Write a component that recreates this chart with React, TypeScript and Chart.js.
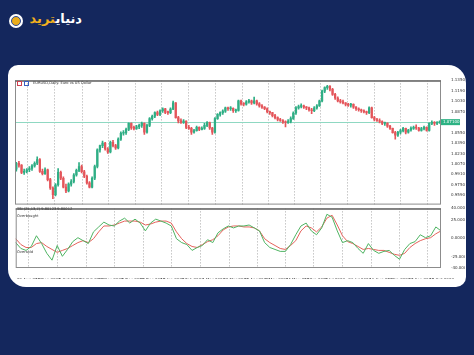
import React, { useEffect, useRef } from "react";
import { Chart, registerables } from "chart.js";
Chart.register(...registerables);

// [open, high, low, close]
const candles: number[][] = [
  [0.9990,1.0095,0.9960,1.0080],[1.0080,1.0110,1.0020,1.0050],[1.0050,1.0060,0.9920,0.9940],[0.9940,0.9990,0.9910,0.9955],
  [0.9955,1.0000,0.9930,0.9980],[0.9980,1.0030,0.9950,1.0000],[1.0000,1.0060,0.9970,1.0040],[1.0040,1.0100,1.0020,1.0080],
  [1.0080,1.0180,1.0060,1.0135],[1.0135,1.0150,0.9940,0.9955],[0.9955,0.9990,0.9900,0.9920],[0.9920,1.0010,0.9910,0.9980],
  [0.9980,0.9990,0.9810,0.9830],[0.9830,0.9850,0.9680,0.9700],[0.9700,0.9720,0.9536,0.9600],[0.9600,0.9770,0.9580,0.9750],
  [0.9750,0.9999,0.9730,0.9940],[0.9940,0.9960,0.9830,0.9850],[0.9850,0.9870,0.9700,0.9715],[0.9715,0.9760,0.9630,0.9655],
  [0.9655,0.9780,0.9640,0.9760],[0.9760,0.9830,0.9730,0.9800],[0.9800,0.9920,0.9780,0.9900],[0.9900,0.9990,0.9880,0.9970],
  [0.9970,1.0090,0.9950,1.0030],[1.0030,1.0050,0.9930,0.9950],[0.9950,0.9970,0.9860,0.9880],[0.9880,0.9900,0.9760,0.9780],
  [0.9780,0.9800,0.9700,0.9715],[0.9715,0.9870,0.9700,0.9850],[0.9850,1.0050,0.9830,1.0030],[1.0030,1.0300,1.0010,1.0285],
  [1.0285,1.0360,1.0250,1.0350],[1.0350,1.0420,1.0320,1.0390],[1.0390,1.0400,1.0280,1.0300],[1.0300,1.0320,1.0230,1.0255],
  [1.0255,1.0420,1.0240,1.0400],[1.0400,1.0430,1.0330,1.0350],[1.0350,1.0370,1.0290,1.0315],[1.0315,1.0470,1.0300,1.0450],
  [1.0450,1.0560,1.0430,1.0540],[1.0540,1.0580,1.0510,1.0550],[1.0550,1.0620,1.0520,1.0600],[1.0600,1.0700,1.0580,1.0690],
  [1.0690,1.0700,1.0600,1.0620],[1.0620,1.0650,1.0590,1.0615],[1.0615,1.0660,1.0600,1.0640],[1.0640,1.0680,1.0610,1.0660],
  [1.0660,1.0710,1.0630,1.0690],[1.0690,1.0700,1.0520,1.0555],[1.0555,1.0680,1.0540,1.0660],[1.0660,1.0780,1.0640,1.0765],
  [1.0765,1.0820,1.0740,1.0800],[1.0800,1.0870,1.0780,1.0855],[1.0855,1.0880,1.0810,1.0830],[1.0830,1.0900,1.0810,1.0885],
  [1.0885,1.0930,1.0860,1.0915],[1.0915,1.0920,1.0840,1.0860],[1.0860,1.0880,1.0830,1.0855],[1.0855,1.0930,1.0840,1.0910],
  [1.0910,1.1033,1.0900,1.1005],[1.1005,1.1010,1.0770,1.0780],[1.0780,1.0800,1.0700,1.0730],[1.0730,1.0760,1.0690,1.0705],
  [1.0705,1.0750,1.0690,1.0725],[1.0725,1.0730,1.0610,1.0630],[1.0630,1.0660,1.0600,1.0615],[1.0615,1.0630,1.0520,1.0555],
  [1.0555,1.0600,1.0540,1.0580],[1.0580,1.0650,1.0570,1.0630],[1.0630,1.0640,1.0580,1.0600],[1.0600,1.0640,1.0590,1.0615],
  [1.0615,1.0690,1.0600,1.0660],[1.0660,1.0720,1.0640,1.0705],[1.0705,1.0710,1.0600,1.0620],[1.0620,1.0630,1.0520,1.0555],
  [1.0555,1.0780,1.0540,1.0765],[1.0765,1.0840,1.0750,1.0830],[1.0830,1.0870,1.0800,1.0855],[1.0855,1.0900,1.0830,1.0880],
  [1.0880,1.0940,1.0860,1.0930],[1.0930,1.0940,1.0890,1.0915],[1.0915,1.0950,1.0890,1.0920],[1.0920,1.0930,1.0860,1.0885],
  [1.0885,1.0910,1.0860,1.0890],[1.0890,1.1050,1.0880,1.1035],[1.1035,1.1050,1.0970,1.0990],[1.0990,1.1010,1.0960,1.0985],
  [1.0985,1.1040,1.0970,1.1020],[1.1020,1.1060,1.1000,1.1035],[1.1035,1.1050,1.0980,1.1005],[1.1005,1.1095,1.0990,1.1035],
  [1.1035,1.1050,1.0970,1.0990],[1.0990,1.1010,1.0940,1.0960],[1.0960,1.0980,1.0920,1.0940],[1.0940,1.0950,1.0900,1.0915],
  [1.0915,1.0930,1.0850,1.0870],[1.0870,1.0880,1.0830,1.0855],[1.0855,1.0860,1.0790,1.0810],[1.0810,1.0830,1.0760,1.0780],
  [1.0780,1.0790,1.0730,1.0750],[1.0750,1.0770,1.0720,1.0735],[1.0735,1.0750,1.0690,1.0710],[1.0710,1.0730,1.0635,1.0705],
  [1.0705,1.0750,1.0690,1.0720],[1.0720,1.0790,1.0700,1.0765],[1.0765,1.0870,1.0750,1.0850],[1.0850,1.0950,1.0830,1.0930],
  [1.0930,1.0970,1.0910,1.0950],[1.0950,1.0990,1.0930,1.0960],[1.0960,1.0970,1.0920,1.0940],[1.0940,1.0950,1.0900,1.0930],
  [1.0930,1.0940,1.0880,1.0900],[1.0900,1.0920,1.0840,1.0885],[1.0885,1.0950,1.0870,1.0930],[1.0930,1.0980,1.0910,1.0960],
  [1.0960,1.1050,1.0950,1.1035],[1.1035,1.1200,1.1020,1.1185],[1.1185,1.1250,1.1160,1.1240],[1.1240,1.1276,1.1210,1.1260],
  [1.1260,1.1270,1.1190,1.1215],[1.1215,1.1230,1.1120,1.1135],[1.1135,1.1150,1.1060,1.1080],[1.1080,1.1100,1.1020,1.1035],
  [1.1035,1.1060,1.1000,1.1020],[1.1020,1.1050,1.0990,1.1005],[1.1005,1.1010,1.0960,1.0980],[1.0980,1.1000,1.0950,1.0970],
  [1.0970,1.1000,1.0940,1.0985],[1.0985,1.0990,1.0920,1.0940],[1.0940,1.0950,1.0890,1.0915],[1.0915,1.0930,1.0880,1.0900],
  [1.0900,1.0910,1.0860,1.0885],[1.0885,1.0900,1.0850,1.0870],[1.0870,1.0880,1.0830,1.0855],[1.0855,1.0945,1.0840,1.0930],
  [1.0930,1.0940,1.0770,1.0780],[1.0780,1.0800,1.0730,1.0750],[1.0750,1.0770,1.0720,1.0735],[1.0735,1.0760,1.0700,1.0720],
  [1.0720,1.0730,1.0670,1.0690],[1.0690,1.0710,1.0660,1.0695],[1.0695,1.0700,1.0630,1.0650],[1.0650,1.0660,1.0600,1.0615],
  [1.0615,1.0620,1.0540,1.0550],[1.0550,1.0570,1.0448,1.0510],[1.0510,1.0570,1.0490,1.0555],[1.0555,1.0600,1.0530,1.0580],
  [1.0580,1.0630,1.0560,1.0615],[1.0615,1.0620,1.0530,1.0555],[1.0555,1.0600,1.0540,1.0590],[1.0590,1.0640,1.0570,1.0615],
  [1.0615,1.0650,1.0600,1.0630],[1.0630,1.0670,1.0600,1.0620],[1.0620,1.0630,1.0570,1.0585],[1.0585,1.0630,1.0570,1.0610],
  [1.0610,1.0650,1.0590,1.0630],[1.0630,1.0640,1.0570,1.0585],[1.0585,1.0700,1.0570,1.0690],[1.0690,1.0730,1.0670,1.0705],
  [1.0705,1.0720,1.0660,1.0690],[1.0690,1.0720,1.0670,1.0705],[1.0705,1.0730,1.0690,1.0710],
];

const tsiMain: number[] = [
  -5.9,-13.8,-16.4,-11.1,3.3,-7.2,-20.3,-29.5,-9.8,-24.3,-15.1,-4.6,0.7,-3.3,-7.2,8.5,15.1,21.6,17.7,16.4,
  23.0,26.9,20.3,25.6,20.3,9.8,20.3,25.6,23.0,20.3,16.4,-0.7,-5.9,-8.5,-16.4,-12.5,-9.8,-2.0,-5.9,7.2,
  12.5,16.4,13.8,16.4,16.4,17.7,13.8,9.8,-5.9,-12.5,-15.1,-17.7,-17.7,-8.5,4.6,16.4,20.3,9.8,4.6,13.8,
  32.1,28.2,9.8,-5.9,-3.3,-5.9,-13.8,-20.3,-7.2,-16.4,-20.3,-17.7,-16.4,-23.0,-28.2,-15.1,-7.2,-4.6,4.6,0.7,
  3.3,15.1,9.8,
];
const tsiSignal: number[] = [
  -0.7,-8.5,-12.5,-12.5,-7.2,-5.9,-11.1,-15.1,-19.0,-16.4,-13.8,-9.8,-5.9,-3.3,-5.9,-0.7,8.5,16.4,16.4,17.7,
  20.3,23.0,23.0,23.0,21.6,17.7,19.0,21.6,23.0,23.0,20.3,8.5,-0.7,-7.2,-11.1,-12.5,-8.5,-4.6,-2.0,3.3,
  11.1,15.1,16.4,16.4,15.1,15.1,13.8,9.8,-0.7,-5.9,-9.8,-13.8,-15.1,-9.8,-3.3,9.8,16.4,13.8,8.5,15.1,
  26.9,30.8,17.7,3.3,-4.6,-7.2,-11.1,-15.1,-13.8,-15.1,-16.4,-16.4,-19.0,-21.6,-23.0,-20.3,-12.5,-7.2,-3.3,-0.7,
  0.7,5.9,9.8,
];

const priceMin = 0.9446;
const priceMax = 1.1350;
const priceTicks: number[] = [1.1350, 1.1190, 1.1030, 1.0870, 1.0550, 1.0390, 1.0230, 1.0070, 0.9910, 0.9750, 0.9590];
const currentPrice = 1.0710;

const tsiMin = -40;
const tsiMax = 40;
const tsiTicks: number[] = [40, 25, 0, -25, -40];

const dateLabels: string[] = [
  "29 Aug 2022","19 Sep 2022","5 Oct 2022","26 Oct 2022","16 Nov 2022","7 Dec 2022","28 Dec 2022",
  "18 Jan 2023","8 Feb 2023","1 Mar 2023","22 Mar 2023","12 Apr 2023","3 May 2023","24 May 2023",
  "14 Jun 2023","5 Jul 2023","26 Jul 2023","16 Aug 2023","6 Sep 2023","27 Sep 2023","18 Oct 2023",
];
const dateBars: number[] = [0, 7, 16, 24, 31, 40, 47, 55, 63, 71, 79, 87, 95, 103, 110, 118, 127, 135, 142, 150, 158];
const gridBars: number[] = [4.5, 15.6, 26.7, 37.4, 48.5, 59.2, 70.3, 81.4, 92.1, 102.8, 113.5, 124.6, 135.7, 146.5, 157.3];

const NAVY = "#14275d";
const UP = "#2fae85";
const DOWN = "#e4555a";
const FONT = "'DejaVu Sans', sans-serif";

const framePlugin = {
  id: "frame",
  afterDraw(chart: any) {
    const { ctx, chartArea: a } = chart;
    ctx.save();
    ctx.strokeStyle = "#8c8c8c";
    ctx.lineWidth = 1;
    ctx.strokeRect(a.left + 0.5, a.top + 0.5, a.right - a.left - 1, a.bottom - a.top - 1);
    ctx.strokeStyle = "#6e6e6e";
    ctx.lineWidth = 1.5;
    ctx.beginPath();
    ctx.moveTo(a.left, a.top + 0.5);
    ctx.lineTo(a.right, a.top + 0.5);
    ctx.stroke();
    ctx.restore();
  },
};

const pricePlugin = {
  id: "curPrice",
  beforeDatasetsDraw(chart: any) {
    const { ctx, chartArea: a, scales } = chart;
    const y = Math.round(scales.y.getPixelForValue(currentPrice)) + 0.5;
    ctx.save();
    ctx.strokeStyle = "#8fd8c2";
    ctx.lineWidth = 1;
    ctx.beginPath();
    ctx.moveTo(a.left, y);
    ctx.lineTo(a.right, y);
    ctx.stroke();
    ctx.restore();
  },
  afterDraw(chart: any) {
    const { ctx, chartArea: a, scales } = chart;
    const y = scales.y.getPixelForValue(currentPrice);
    ctx.save();
    ctx.fillStyle = "#2cb283";
    ctx.fillRect(a.right, y - 3, 19, 6);
    ctx.fillStyle = "#ffffff";
    ctx.font = "4px " + FONT;
    ctx.textBaseline = "middle";
    ctx.fillText(currentPrice.toFixed(5), a.right + 2, y + 0.3);
    ctx.restore();
  },
};

const N = candles.length;
const gridAxis = {
  type: "linear" as const,
  position: "bottom" as const,
  min: -0.5,
  max: N - 0.5,
  afterBuildTicks: (s: any) => {
    s.ticks = gridBars.map((v) => ({ value: v }));
  },
  afterFit: (s: any) => {
    s.height = 0;
  },
  ticks: { display: false },
  grid: { color: "#a9a9a9", lineWidth: 1, drawTicks: false },
  border: { display: false, dash: [1, 2] },
};

export default function App() {
  const mainRef = useRef<HTMLCanvasElement>(null);
  const tsiRef = useRef<HTMLCanvasElement>(null);

  useEffect(() => {
    document.body.style.margin = "0";
    const colors = candles.map((c) => (c[3] >= c[0] ? UP : DOWN));
    const main = new Chart(mainRef.current!, {
      type: "bar",
      data: {
        labels: candles.map((_, i) => String(i)),
        datasets: [
          {
            data: candles.map((c) => [c[2], c[1]]) as any,
            backgroundColor: colors,
            barThickness: 1,
            grouped: false,
            order: 2,
          },
          {
            data: candles.map((c) => [c[0], c[3]]) as any,
            backgroundColor: colors,
            barThickness: 1.6,
            minBarLength: 1,
            grouped: false,
            order: 1,
          },
        ],
      },
      options: {
        animation: false,
        responsive: false,
        maintainAspectRatio: false,
        layout: { padding: { top: 3, bottom: 3, left: 0, right: 0 } },
        plugins: { legend: { display: false }, tooltip: { enabled: false } },
        scales: {
          x: { display: false, offset: true },
          xg: gridAxis as any,
          y: {
            position: "right",
            min: priceMin,
            max: priceMax,
            afterBuildTicks: (s: any) => {
              s.ticks = priceTicks.map((v) => ({ value: v }));
            },
            afterFit: (s: any) => {
              s.width = 24;
            },
            grid: { display: false },
            border: { display: false },
            ticks: {
              font: { size: 4, family: FONT },
              color: "#333",
              padding: 2,
              callback: (v: any) => Number(v).toFixed(5),
            },
          },
        },
      },
      plugins: [pricePlugin, framePlugin],
    });

    const tsi = new Chart(tsiRef.current!, {
      type: "line",
      data: {
        labels: tsiMain.map((_, i) => String(i)),
        datasets: [
          { data: tsiMain, borderColor: "#4fb463", borderWidth: 1, pointRadius: 0, xAxisID: "xt", tension: 0 },
          { data: tsiSignal, borderColor: "#e5625c", borderWidth: 1, pointRadius: 0, xAxisID: "xt", tension: 0 },
        ],
      },
      options: {
        animation: false,
        responsive: false,
        maintainAspectRatio: false,
        layout: { padding: { top: 3, bottom: 0, left: 0, right: 0 } },
        plugins: { legend: { display: false }, tooltip: { enabled: false } },
        scales: {
          xt: { type: "category", display: false, offset: false },
          x: {
            type: "linear",
            position: "bottom",
            min: -0.5,
            max: N - 0.5,
            afterBuildTicks: (s: any) => {
              s.ticks = dateBars.map((v) => ({ value: v }));
            },
            afterFit: (s: any) => {
              s.height = 11;
            },
            grid: { display: false },
            border: { display: false },
            ticks: {
              autoSkip: false,
              maxRotation: 0,
              minRotation: 0,
              align: "start",
              padding: 2,
              font: { size: 4, family: FONT },
              color: "#333",
              callback: (_v: any, i: number) => dateLabels[i],
            },
          },
          xg: gridAxis as any,
          y: {
            position: "right",
            min: tsiMin,
            max: tsiMax,
            afterBuildTicks: (s: any) => {
              s.ticks = tsiTicks.map((v) => ({ value: v }));
            },
            afterFit: (s: any) => {
              s.width = 24;
            },
            grid: { display: false },
            border: { display: false },
            ticks: {
              font: { size: 4, family: FONT },
              color: "#333",
              padding: 2,
              callback: (v: any) => Number(v).toFixed(5),
            },
          },
        },
      },
      plugins: [framePlugin],
    });

    return () => {
      main.destroy();
      tsi.destroy();
    };
  }, []);

  const small: React.CSSProperties = {
    position: "absolute",
    fontFamily: FONT,
    fontSize: 3.6,
    color: "#333",
    whiteSpace: "nowrap",
    lineHeight: 1,
  };

  return (
    <div style={{ position: "relative", width: 474, height: 355, background: NAVY, overflow: "hidden" }}>
      {/* logo */}
      <div
        style={{
          position: "absolute",
          left: 9,
          top: 14,
          width: 14,
          height: 14,
          borderRadius: "50%",
          background: "#ffffff",
        }}
      >
        <div
          style={{
            position: "absolute",
            left: 2,
            top: 2,
            width: 10,
            height: 10,
            borderRadius: "50%",
            background: "#e9ac1c",
            border: "1px solid #2a4a9a",
            boxSizing: "border-box",
          }}
        />
      </div>
      <div
        style={{
          position: "absolute",
          left: 30,
          top: 9,
          width: 52,
          direction: "rtl",
          fontFamily: "'DejaVu Sans', sans-serif",
          fontWeight: "bold",
          fontSize: 13,
          color: "#ffffff",
          whiteSpace: "nowrap",
          lineHeight: "20px",
        }}
      >
        <span>دنیای</span>
        <span style={{ color: "#f2b01e" }}>ترید</span>
      </div>

      {/* white card */}
      <div
        style={{
          position: "absolute",
          left: 8,
          top: 65,
          width: 458,
          height: 222,
          background: "#ffffff",
          borderRadius: "10px 18px 10px 18px",
        }}
      />

      <canvas
        ref={mainRef}
        width={450}
        height={133}
        style={{ position: "absolute", left: 15, top: 76, width: 450, height: 133 }}
      />
      <canvas
        ref={tsiRef}
        width={450}
        height={75}
        style={{ position: "absolute", left: 15, top: 204, width: 450, height: 75 }}
      />

      {/* panel captions */}
      <div style={{ ...small, left: 17, top: 81, display: "flex", alignItems: "center", gap: 1 }}>
        <span style={{ display: "inline-block", width: 3, height: 3, border: "0.6px solid #d04050", marginRight: 1 }} />
        <span style={{ display: "inline-block", width: 3, height: 3, border: "0.6px solid #3a60c0", marginRight: 3 }} />
        <span>EURUSD,Daily: Euro vs US Dollar</span>
      </div>
      <div style={{ ...small, left: 17, top: 208 }}>TSI (25,13,7) 9.80123 9.80012</div>
      <div style={{ ...small, left: 17, top: 215 }}>Overbought</div>
      <div style={{ ...small, left: 17, top: 251 }}>Oversold</div>
    </div>
  );
}
